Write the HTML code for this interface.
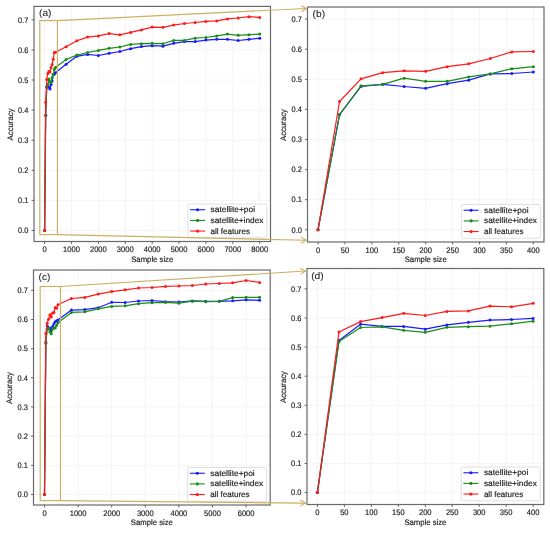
<!DOCTYPE html>
<html><head><meta charset="utf-8"><style>
html,body{margin:0;padding:0;background:#fff;width:550px;height:533px;overflow:hidden}
svg{display:block;text-rendering:geometricPrecision;will-change:transform;font-family:"Liberation Sans",sans-serif}
.grid{stroke:#f4f4f4;stroke-width:1}
.spine{fill:none;stroke:#6a6a6a;stroke-width:1.2}
.tick{stroke:#555;stroke-width:0.9}
.legend{fill:#fff;fill-opacity:0.8;stroke:#d6d6d6;stroke-width:0.75}
</style></head><body>
<svg width="550" height="533" viewBox="0 0 550 533">
<rect width="550" height="533" fill="#fff"/>
<line x1="44.60" y1="6.40" x2="44.60" y2="241.50" class="grid"/>
<line x1="71.49" y1="6.40" x2="71.49" y2="241.50" class="grid"/>
<line x1="98.38" y1="6.40" x2="98.38" y2="241.50" class="grid"/>
<line x1="125.27" y1="6.40" x2="125.27" y2="241.50" class="grid"/>
<line x1="152.16" y1="6.40" x2="152.16" y2="241.50" class="grid"/>
<line x1="179.05" y1="6.40" x2="179.05" y2="241.50" class="grid"/>
<line x1="205.94" y1="6.40" x2="205.94" y2="241.50" class="grid"/>
<line x1="232.83" y1="6.40" x2="232.83" y2="241.50" class="grid"/>
<line x1="259.72" y1="6.40" x2="259.72" y2="241.50" class="grid"/>
<line x1="34.00" y1="230.50" x2="270.50" y2="230.50" class="grid"/>
<line x1="34.00" y1="200.40" x2="270.50" y2="200.40" class="grid"/>
<line x1="34.00" y1="170.30" x2="270.50" y2="170.30" class="grid"/>
<line x1="34.00" y1="140.20" x2="270.50" y2="140.20" class="grid"/>
<line x1="34.00" y1="110.10" x2="270.50" y2="110.10" class="grid"/>
<line x1="34.00" y1="80.00" x2="270.50" y2="80.00" class="grid"/>
<line x1="34.00" y1="49.90" x2="270.50" y2="49.90" class="grid"/>
<line x1="34.00" y1="19.80" x2="270.50" y2="19.80" class="grid"/>
<polyline points="44.60,230.50 45.68,115.30 46.75,87.20 47.83,85.00 48.90,87.20 49.98,89.00 51.05,84.40 52.13,80.90 53.20,74.60 54.28,74.20 55.36,72.70 66.11,64.30 76.87,56.30 87.62,54.40 98.38,55.50 109.14,53.30 119.89,51.50 130.65,48.70 141.40,46.60 152.16,45.70 162.92,46.20 173.67,43.30 184.43,41.60 195.18,41.60 205.94,40.10 216.70,39.30 227.45,39.30 238.21,40.50 248.96,39.30 259.72,38.20" fill="none" stroke="#1a1aff" stroke-width="1.2" stroke-linejoin="round"/>
<circle cx="44.60" cy="230.50" r="1.5" fill="#1a1aff"/>
<circle cx="45.68" cy="115.30" r="1.5" fill="#1a1aff"/>
<circle cx="46.75" cy="87.20" r="1.5" fill="#1a1aff"/>
<circle cx="47.83" cy="85.00" r="1.5" fill="#1a1aff"/>
<circle cx="48.90" cy="87.20" r="1.5" fill="#1a1aff"/>
<circle cx="49.98" cy="89.00" r="1.5" fill="#1a1aff"/>
<circle cx="51.05" cy="84.40" r="1.5" fill="#1a1aff"/>
<circle cx="52.13" cy="80.90" r="1.5" fill="#1a1aff"/>
<circle cx="53.20" cy="74.60" r="1.5" fill="#1a1aff"/>
<circle cx="54.28" cy="74.20" r="1.5" fill="#1a1aff"/>
<circle cx="55.36" cy="72.70" r="1.5" fill="#1a1aff"/>
<circle cx="66.11" cy="64.30" r="1.5" fill="#1a1aff"/>
<circle cx="76.87" cy="56.30" r="1.5" fill="#1a1aff"/>
<circle cx="87.62" cy="54.40" r="1.5" fill="#1a1aff"/>
<circle cx="98.38" cy="55.50" r="1.5" fill="#1a1aff"/>
<circle cx="109.14" cy="53.30" r="1.5" fill="#1a1aff"/>
<circle cx="119.89" cy="51.50" r="1.5" fill="#1a1aff"/>
<circle cx="130.65" cy="48.70" r="1.5" fill="#1a1aff"/>
<circle cx="141.40" cy="46.60" r="1.5" fill="#1a1aff"/>
<circle cx="152.16" cy="45.70" r="1.5" fill="#1a1aff"/>
<circle cx="162.92" cy="46.20" r="1.5" fill="#1a1aff"/>
<circle cx="173.67" cy="43.30" r="1.5" fill="#1a1aff"/>
<circle cx="184.43" cy="41.60" r="1.5" fill="#1a1aff"/>
<circle cx="195.18" cy="41.60" r="1.5" fill="#1a1aff"/>
<circle cx="205.94" cy="40.10" r="1.5" fill="#1a1aff"/>
<circle cx="216.70" cy="39.30" r="1.5" fill="#1a1aff"/>
<circle cx="227.45" cy="39.30" r="1.5" fill="#1a1aff"/>
<circle cx="238.21" cy="40.50" r="1.5" fill="#1a1aff"/>
<circle cx="248.96" cy="39.30" r="1.5" fill="#1a1aff"/>
<circle cx="259.72" cy="38.20" r="1.5" fill="#1a1aff"/>
<polyline points="44.60,230.50 45.68,115.30 46.75,86.50 47.83,85.00 48.90,78.90 49.98,82.00 51.05,82.00 52.13,77.60 53.20,74.60 54.28,69.50 55.36,67.40 66.11,59.50 76.87,55.10 87.62,52.50 98.38,50.40 109.14,48.30 119.89,47.00 130.65,44.40 141.40,43.70 152.16,43.30 162.92,43.70 173.67,40.40 184.43,40.40 195.18,38.20 205.94,37.50 216.70,35.90 227.45,34.10 238.21,35.30 248.96,34.70 259.72,34.10" fill="none" stroke="#1a8c1a" stroke-width="1.2" stroke-linejoin="round"/>
<circle cx="44.60" cy="230.50" r="1.5" fill="#1a8c1a"/>
<circle cx="45.68" cy="115.30" r="1.5" fill="#1a8c1a"/>
<circle cx="46.75" cy="86.50" r="1.5" fill="#1a8c1a"/>
<circle cx="47.83" cy="85.00" r="1.5" fill="#1a8c1a"/>
<circle cx="48.90" cy="78.90" r="1.5" fill="#1a8c1a"/>
<circle cx="49.98" cy="82.00" r="1.5" fill="#1a8c1a"/>
<circle cx="51.05" cy="82.00" r="1.5" fill="#1a8c1a"/>
<circle cx="52.13" cy="77.60" r="1.5" fill="#1a8c1a"/>
<circle cx="53.20" cy="74.60" r="1.5" fill="#1a8c1a"/>
<circle cx="54.28" cy="69.50" r="1.5" fill="#1a8c1a"/>
<circle cx="55.36" cy="67.40" r="1.5" fill="#1a8c1a"/>
<circle cx="66.11" cy="59.50" r="1.5" fill="#1a8c1a"/>
<circle cx="76.87" cy="55.10" r="1.5" fill="#1a8c1a"/>
<circle cx="87.62" cy="52.50" r="1.5" fill="#1a8c1a"/>
<circle cx="98.38" cy="50.40" r="1.5" fill="#1a8c1a"/>
<circle cx="109.14" cy="48.30" r="1.5" fill="#1a8c1a"/>
<circle cx="119.89" cy="47.00" r="1.5" fill="#1a8c1a"/>
<circle cx="130.65" cy="44.40" r="1.5" fill="#1a8c1a"/>
<circle cx="141.40" cy="43.70" r="1.5" fill="#1a8c1a"/>
<circle cx="152.16" cy="43.30" r="1.5" fill="#1a8c1a"/>
<circle cx="162.92" cy="43.70" r="1.5" fill="#1a8c1a"/>
<circle cx="173.67" cy="40.40" r="1.5" fill="#1a8c1a"/>
<circle cx="184.43" cy="40.40" r="1.5" fill="#1a8c1a"/>
<circle cx="195.18" cy="38.20" r="1.5" fill="#1a8c1a"/>
<circle cx="205.94" cy="37.50" r="1.5" fill="#1a8c1a"/>
<circle cx="216.70" cy="35.90" r="1.5" fill="#1a8c1a"/>
<circle cx="227.45" cy="34.10" r="1.5" fill="#1a8c1a"/>
<circle cx="238.21" cy="35.30" r="1.5" fill="#1a8c1a"/>
<circle cx="248.96" cy="34.70" r="1.5" fill="#1a8c1a"/>
<circle cx="259.72" cy="34.10" r="1.5" fill="#1a8c1a"/>
<polyline points="44.60,230.50 45.68,102.20 46.75,79.50 47.83,73.40 48.90,71.50 49.98,72.00 51.05,67.40 52.13,64.50 53.20,59.20 54.28,52.60 55.36,52.20 66.11,46.70 76.87,40.80 87.62,37.10 98.38,35.90 109.14,33.60 119.89,34.80 130.65,32.40 141.40,29.90 152.16,27.10 162.92,27.30 173.67,25.10 184.43,23.50 195.18,22.50 205.94,21.40 216.70,20.90 227.45,18.90 238.21,18.00 248.96,16.70 259.72,17.40" fill="none" stroke="#ff1a1a" stroke-width="1.2" stroke-linejoin="round"/>
<circle cx="44.60" cy="230.50" r="1.5" fill="#ff1a1a"/>
<circle cx="45.68" cy="102.20" r="1.5" fill="#ff1a1a"/>
<circle cx="46.75" cy="79.50" r="1.5" fill="#ff1a1a"/>
<circle cx="47.83" cy="73.40" r="1.5" fill="#ff1a1a"/>
<circle cx="48.90" cy="71.50" r="1.5" fill="#ff1a1a"/>
<circle cx="49.98" cy="72.00" r="1.5" fill="#ff1a1a"/>
<circle cx="51.05" cy="67.40" r="1.5" fill="#ff1a1a"/>
<circle cx="52.13" cy="64.50" r="1.5" fill="#ff1a1a"/>
<circle cx="53.20" cy="59.20" r="1.5" fill="#ff1a1a"/>
<circle cx="54.28" cy="52.60" r="1.5" fill="#ff1a1a"/>
<circle cx="55.36" cy="52.20" r="1.5" fill="#ff1a1a"/>
<circle cx="66.11" cy="46.70" r="1.5" fill="#ff1a1a"/>
<circle cx="76.87" cy="40.80" r="1.5" fill="#ff1a1a"/>
<circle cx="87.62" cy="37.10" r="1.5" fill="#ff1a1a"/>
<circle cx="98.38" cy="35.90" r="1.5" fill="#ff1a1a"/>
<circle cx="109.14" cy="33.60" r="1.5" fill="#ff1a1a"/>
<circle cx="119.89" cy="34.80" r="1.5" fill="#ff1a1a"/>
<circle cx="130.65" cy="32.40" r="1.5" fill="#ff1a1a"/>
<circle cx="141.40" cy="29.90" r="1.5" fill="#ff1a1a"/>
<circle cx="152.16" cy="27.10" r="1.5" fill="#ff1a1a"/>
<circle cx="162.92" cy="27.30" r="1.5" fill="#ff1a1a"/>
<circle cx="173.67" cy="25.10" r="1.5" fill="#ff1a1a"/>
<circle cx="184.43" cy="23.50" r="1.5" fill="#ff1a1a"/>
<circle cx="195.18" cy="22.50" r="1.5" fill="#ff1a1a"/>
<circle cx="205.94" cy="21.40" r="1.5" fill="#ff1a1a"/>
<circle cx="216.70" cy="20.90" r="1.5" fill="#ff1a1a"/>
<circle cx="227.45" cy="18.90" r="1.5" fill="#ff1a1a"/>
<circle cx="238.21" cy="18.00" r="1.5" fill="#ff1a1a"/>
<circle cx="248.96" cy="16.70" r="1.5" fill="#ff1a1a"/>
<circle cx="259.72" cy="17.40" r="1.5" fill="#ff1a1a"/>
<rect x="34.00" y="6.40" width="236.50" height="235.10" class="spine"/>
<line x1="44.60" y1="241.50" x2="44.60" y2="243.95" class="tick"/>
<text x="44.60" y="252.30" font-size="8.0" text-anchor="middle" textLength="4.20" lengthAdjust="spacingAndGlyphs" fill="#1e1e1e" stroke="#1e1e1e" stroke-width="0.18">0</text>
<line x1="71.49" y1="241.50" x2="71.49" y2="243.95" class="tick"/>
<text x="71.49" y="252.30" font-size="8.0" text-anchor="middle" textLength="16.80" lengthAdjust="spacingAndGlyphs" fill="#1e1e1e" stroke="#1e1e1e" stroke-width="0.18">1000</text>
<line x1="98.38" y1="241.50" x2="98.38" y2="243.95" class="tick"/>
<text x="98.38" y="252.30" font-size="8.0" text-anchor="middle" textLength="16.80" lengthAdjust="spacingAndGlyphs" fill="#1e1e1e" stroke="#1e1e1e" stroke-width="0.18">2000</text>
<line x1="125.27" y1="241.50" x2="125.27" y2="243.95" class="tick"/>
<text x="125.27" y="252.30" font-size="8.0" text-anchor="middle" textLength="16.80" lengthAdjust="spacingAndGlyphs" fill="#1e1e1e" stroke="#1e1e1e" stroke-width="0.18">3000</text>
<line x1="152.16" y1="241.50" x2="152.16" y2="243.95" class="tick"/>
<text x="152.16" y="252.30" font-size="8.0" text-anchor="middle" textLength="16.80" lengthAdjust="spacingAndGlyphs" fill="#1e1e1e" stroke="#1e1e1e" stroke-width="0.18">4000</text>
<line x1="179.05" y1="241.50" x2="179.05" y2="243.95" class="tick"/>
<text x="179.05" y="252.30" font-size="8.0" text-anchor="middle" textLength="16.80" lengthAdjust="spacingAndGlyphs" fill="#1e1e1e" stroke="#1e1e1e" stroke-width="0.18">5000</text>
<line x1="205.94" y1="241.50" x2="205.94" y2="243.95" class="tick"/>
<text x="205.94" y="252.30" font-size="8.0" text-anchor="middle" textLength="16.80" lengthAdjust="spacingAndGlyphs" fill="#1e1e1e" stroke="#1e1e1e" stroke-width="0.18">6000</text>
<line x1="232.83" y1="241.50" x2="232.83" y2="243.95" class="tick"/>
<text x="232.83" y="252.30" font-size="8.0" text-anchor="middle" textLength="16.80" lengthAdjust="spacingAndGlyphs" fill="#1e1e1e" stroke="#1e1e1e" stroke-width="0.18">7000</text>
<line x1="259.72" y1="241.50" x2="259.72" y2="243.95" class="tick"/>
<text x="259.72" y="252.30" font-size="8.0" text-anchor="middle" textLength="16.80" lengthAdjust="spacingAndGlyphs" fill="#1e1e1e" stroke="#1e1e1e" stroke-width="0.18">8000</text>
<line x1="31.55" y1="230.50" x2="34.00" y2="230.50" class="tick"/>
<text x="28.40" y="233.25" font-size="8.0" text-anchor="end" textLength="10.34" lengthAdjust="spacingAndGlyphs" fill="#1e1e1e" stroke="#1e1e1e" stroke-width="0.18">0.0</text>
<line x1="31.55" y1="200.40" x2="34.00" y2="200.40" class="tick"/>
<text x="28.40" y="203.15" font-size="8.0" text-anchor="end" textLength="10.34" lengthAdjust="spacingAndGlyphs" fill="#1e1e1e" stroke="#1e1e1e" stroke-width="0.18">0.1</text>
<line x1="31.55" y1="170.30" x2="34.00" y2="170.30" class="tick"/>
<text x="28.40" y="173.05" font-size="8.0" text-anchor="end" textLength="10.34" lengthAdjust="spacingAndGlyphs" fill="#1e1e1e" stroke="#1e1e1e" stroke-width="0.18">0.2</text>
<line x1="31.55" y1="140.20" x2="34.00" y2="140.20" class="tick"/>
<text x="28.40" y="142.95" font-size="8.0" text-anchor="end" textLength="10.34" lengthAdjust="spacingAndGlyphs" fill="#1e1e1e" stroke="#1e1e1e" stroke-width="0.18">0.3</text>
<line x1="31.55" y1="110.10" x2="34.00" y2="110.10" class="tick"/>
<text x="28.40" y="112.85" font-size="8.0" text-anchor="end" textLength="10.34" lengthAdjust="spacingAndGlyphs" fill="#1e1e1e" stroke="#1e1e1e" stroke-width="0.18">0.4</text>
<line x1="31.55" y1="80.00" x2="34.00" y2="80.00" class="tick"/>
<text x="28.40" y="82.75" font-size="8.0" text-anchor="end" textLength="10.34" lengthAdjust="spacingAndGlyphs" fill="#1e1e1e" stroke="#1e1e1e" stroke-width="0.18">0.5</text>
<line x1="31.55" y1="49.90" x2="34.00" y2="49.90" class="tick"/>
<text x="28.40" y="52.65" font-size="8.0" text-anchor="end" textLength="10.34" lengthAdjust="spacingAndGlyphs" fill="#1e1e1e" stroke="#1e1e1e" stroke-width="0.18">0.6</text>
<line x1="31.55" y1="19.80" x2="34.00" y2="19.80" class="tick"/>
<text x="28.40" y="22.55" font-size="8.0" text-anchor="end" textLength="10.34" lengthAdjust="spacingAndGlyphs" fill="#1e1e1e" stroke="#1e1e1e" stroke-width="0.18">0.7</text>
<text x="152.25" y="261.60" font-size="8.0" text-anchor="middle" textLength="42.04" lengthAdjust="spacingAndGlyphs" fill="#1e1e1e" stroke="#1e1e1e" stroke-width="0.18">Sample size</text>
<text x="12.70" y="124.45" font-size="8.0" text-anchor="middle" textLength="31.96" lengthAdjust="spacingAndGlyphs" fill="#1e1e1e" stroke="#1e1e1e" stroke-width="0.18" transform="rotate(-90 12.70 124.45)">Accuracy</text>
<text x="39.10" y="15.50" font-size="9.6" text-anchor="start" textLength="12.40" lengthAdjust="spacingAndGlyphs" fill="#1e1e1e" stroke="#1e1e1e" stroke-width="0.06">(a)</text>
<rect x="187.90" y="204.00" width="79.00" height="33.80" rx="1.4" class="legend"/>
<line x1="190.10" y1="209.75" x2="205.10" y2="209.75" stroke="#1a1aff" stroke-width="1.1"/>
<circle cx="197.60" cy="209.75" r="1.6" fill="#1a1aff"/>
<text x="210.60" y="212.30" font-size="8.0" text-anchor="start" textLength="44.41" lengthAdjust="spacingAndGlyphs" fill="#1e1e1e" stroke="#1e1e1e" stroke-width="0.18">satellite+poi</text>
<line x1="190.10" y1="220.40" x2="205.10" y2="220.40" stroke="#1a8c1a" stroke-width="1.1"/>
<circle cx="197.60" cy="220.40" r="1.6" fill="#1a8c1a"/>
<text x="210.60" y="222.90" font-size="8.0" text-anchor="start" textLength="52.89" lengthAdjust="spacingAndGlyphs" fill="#1e1e1e" stroke="#1e1e1e" stroke-width="0.18">satellite+index</text>
<line x1="190.10" y1="231.05" x2="205.10" y2="231.05" stroke="#ff1a1a" stroke-width="1.1"/>
<circle cx="197.60" cy="231.05" r="1.6" fill="#ff1a1a"/>
<text x="210.60" y="233.50" font-size="8.0" text-anchor="start" textLength="39.32" lengthAdjust="spacingAndGlyphs" fill="#1e1e1e" stroke="#1e1e1e" stroke-width="0.18">all features</text>
<line x1="318.00" y1="7.00" x2="318.00" y2="242.00" class="grid"/>
<line x1="344.92" y1="7.00" x2="344.92" y2="242.00" class="grid"/>
<line x1="371.83" y1="7.00" x2="371.83" y2="242.00" class="grid"/>
<line x1="398.75" y1="7.00" x2="398.75" y2="242.00" class="grid"/>
<line x1="425.66" y1="7.00" x2="425.66" y2="242.00" class="grid"/>
<line x1="452.57" y1="7.00" x2="452.57" y2="242.00" class="grid"/>
<line x1="479.49" y1="7.00" x2="479.49" y2="242.00" class="grid"/>
<line x1="506.40" y1="7.00" x2="506.40" y2="242.00" class="grid"/>
<line x1="533.32" y1="7.00" x2="533.32" y2="242.00" class="grid"/>
<line x1="307.50" y1="229.80" x2="544.00" y2="229.80" class="grid"/>
<line x1="307.50" y1="199.70" x2="544.00" y2="199.70" class="grid"/>
<line x1="307.50" y1="169.60" x2="544.00" y2="169.60" class="grid"/>
<line x1="307.50" y1="139.50" x2="544.00" y2="139.50" class="grid"/>
<line x1="307.50" y1="109.40" x2="544.00" y2="109.40" class="grid"/>
<line x1="307.50" y1="79.30" x2="544.00" y2="79.30" class="grid"/>
<line x1="307.50" y1="49.20" x2="544.00" y2="49.20" class="grid"/>
<line x1="307.50" y1="19.10" x2="544.00" y2="19.10" class="grid"/>
<polyline points="318.00,229.80 339.53,114.60 361.06,86.50 382.60,84.30 404.13,86.50 425.66,88.30 447.19,83.70 468.72,80.20 490.26,73.90 511.79,73.50 533.32,72.00" fill="none" stroke="#1a1aff" stroke-width="1.2" stroke-linejoin="round"/>
<circle cx="318.00" cy="229.80" r="1.5" fill="#1a1aff"/>
<circle cx="339.53" cy="114.60" r="1.5" fill="#1a1aff"/>
<circle cx="361.06" cy="86.50" r="1.5" fill="#1a1aff"/>
<circle cx="382.60" cy="84.30" r="1.5" fill="#1a1aff"/>
<circle cx="404.13" cy="86.50" r="1.5" fill="#1a1aff"/>
<circle cx="425.66" cy="88.30" r="1.5" fill="#1a1aff"/>
<circle cx="447.19" cy="83.70" r="1.5" fill="#1a1aff"/>
<circle cx="468.72" cy="80.20" r="1.5" fill="#1a1aff"/>
<circle cx="490.26" cy="73.90" r="1.5" fill="#1a1aff"/>
<circle cx="511.79" cy="73.50" r="1.5" fill="#1a1aff"/>
<circle cx="533.32" cy="72.00" r="1.5" fill="#1a1aff"/>
<polyline points="318.00,229.80 339.53,114.60 361.06,85.80 382.60,84.30 404.13,78.20 425.66,81.30 447.19,81.30 468.72,76.90 490.26,73.90 511.79,68.80 533.32,66.70" fill="none" stroke="#1a8c1a" stroke-width="1.2" stroke-linejoin="round"/>
<circle cx="318.00" cy="229.80" r="1.5" fill="#1a8c1a"/>
<circle cx="339.53" cy="114.60" r="1.5" fill="#1a8c1a"/>
<circle cx="361.06" cy="85.80" r="1.5" fill="#1a8c1a"/>
<circle cx="382.60" cy="84.30" r="1.5" fill="#1a8c1a"/>
<circle cx="404.13" cy="78.20" r="1.5" fill="#1a8c1a"/>
<circle cx="425.66" cy="81.30" r="1.5" fill="#1a8c1a"/>
<circle cx="447.19" cy="81.30" r="1.5" fill="#1a8c1a"/>
<circle cx="468.72" cy="76.90" r="1.5" fill="#1a8c1a"/>
<circle cx="490.26" cy="73.90" r="1.5" fill="#1a8c1a"/>
<circle cx="511.79" cy="68.80" r="1.5" fill="#1a8c1a"/>
<circle cx="533.32" cy="66.70" r="1.5" fill="#1a8c1a"/>
<polyline points="318.00,229.80 339.53,101.50 361.06,78.80 382.60,72.70 404.13,70.80 425.66,71.30 447.19,66.70 468.72,63.80 490.26,58.50 511.79,51.90 533.32,51.50" fill="none" stroke="#ff1a1a" stroke-width="1.2" stroke-linejoin="round"/>
<circle cx="318.00" cy="229.80" r="1.5" fill="#ff1a1a"/>
<circle cx="339.53" cy="101.50" r="1.5" fill="#ff1a1a"/>
<circle cx="361.06" cy="78.80" r="1.5" fill="#ff1a1a"/>
<circle cx="382.60" cy="72.70" r="1.5" fill="#ff1a1a"/>
<circle cx="404.13" cy="70.80" r="1.5" fill="#ff1a1a"/>
<circle cx="425.66" cy="71.30" r="1.5" fill="#ff1a1a"/>
<circle cx="447.19" cy="66.70" r="1.5" fill="#ff1a1a"/>
<circle cx="468.72" cy="63.80" r="1.5" fill="#ff1a1a"/>
<circle cx="490.26" cy="58.50" r="1.5" fill="#ff1a1a"/>
<circle cx="511.79" cy="51.90" r="1.5" fill="#ff1a1a"/>
<circle cx="533.32" cy="51.50" r="1.5" fill="#ff1a1a"/>
<rect x="307.50" y="7.00" width="236.50" height="235.00" class="spine"/>
<line x1="318.00" y1="242.00" x2="318.00" y2="244.45" class="tick"/>
<text x="318.00" y="252.60" font-size="8.0" text-anchor="middle" textLength="4.20" lengthAdjust="spacingAndGlyphs" fill="#1e1e1e" stroke="#1e1e1e" stroke-width="0.18">0</text>
<line x1="344.92" y1="242.00" x2="344.92" y2="244.45" class="tick"/>
<text x="344.92" y="252.60" font-size="8.0" text-anchor="middle" textLength="8.40" lengthAdjust="spacingAndGlyphs" fill="#1e1e1e" stroke="#1e1e1e" stroke-width="0.18">50</text>
<line x1="371.83" y1="242.00" x2="371.83" y2="244.45" class="tick"/>
<text x="371.83" y="252.60" font-size="8.0" text-anchor="middle" textLength="12.60" lengthAdjust="spacingAndGlyphs" fill="#1e1e1e" stroke="#1e1e1e" stroke-width="0.18">100</text>
<line x1="398.75" y1="242.00" x2="398.75" y2="244.45" class="tick"/>
<text x="398.75" y="252.60" font-size="8.0" text-anchor="middle" textLength="12.60" lengthAdjust="spacingAndGlyphs" fill="#1e1e1e" stroke="#1e1e1e" stroke-width="0.18">150</text>
<line x1="425.66" y1="242.00" x2="425.66" y2="244.45" class="tick"/>
<text x="425.66" y="252.60" font-size="8.0" text-anchor="middle" textLength="12.60" lengthAdjust="spacingAndGlyphs" fill="#1e1e1e" stroke="#1e1e1e" stroke-width="0.18">200</text>
<line x1="452.57" y1="242.00" x2="452.57" y2="244.45" class="tick"/>
<text x="452.57" y="252.60" font-size="8.0" text-anchor="middle" textLength="12.60" lengthAdjust="spacingAndGlyphs" fill="#1e1e1e" stroke="#1e1e1e" stroke-width="0.18">250</text>
<line x1="479.49" y1="242.00" x2="479.49" y2="244.45" class="tick"/>
<text x="479.49" y="252.60" font-size="8.0" text-anchor="middle" textLength="12.60" lengthAdjust="spacingAndGlyphs" fill="#1e1e1e" stroke="#1e1e1e" stroke-width="0.18">300</text>
<line x1="506.40" y1="242.00" x2="506.40" y2="244.45" class="tick"/>
<text x="506.40" y="252.60" font-size="8.0" text-anchor="middle" textLength="12.60" lengthAdjust="spacingAndGlyphs" fill="#1e1e1e" stroke="#1e1e1e" stroke-width="0.18">350</text>
<line x1="533.32" y1="242.00" x2="533.32" y2="244.45" class="tick"/>
<text x="533.32" y="252.60" font-size="8.0" text-anchor="middle" textLength="12.60" lengthAdjust="spacingAndGlyphs" fill="#1e1e1e" stroke="#1e1e1e" stroke-width="0.18">400</text>
<line x1="305.05" y1="229.80" x2="307.50" y2="229.80" class="tick"/>
<text x="301.90" y="232.55" font-size="8.0" text-anchor="end" textLength="10.34" lengthAdjust="spacingAndGlyphs" fill="#1e1e1e" stroke="#1e1e1e" stroke-width="0.18">0.0</text>
<line x1="305.05" y1="199.70" x2="307.50" y2="199.70" class="tick"/>
<text x="301.90" y="202.45" font-size="8.0" text-anchor="end" textLength="10.34" lengthAdjust="spacingAndGlyphs" fill="#1e1e1e" stroke="#1e1e1e" stroke-width="0.18">0.1</text>
<line x1="305.05" y1="169.60" x2="307.50" y2="169.60" class="tick"/>
<text x="301.90" y="172.35" font-size="8.0" text-anchor="end" textLength="10.34" lengthAdjust="spacingAndGlyphs" fill="#1e1e1e" stroke="#1e1e1e" stroke-width="0.18">0.2</text>
<line x1="305.05" y1="139.50" x2="307.50" y2="139.50" class="tick"/>
<text x="301.90" y="142.25" font-size="8.0" text-anchor="end" textLength="10.34" lengthAdjust="spacingAndGlyphs" fill="#1e1e1e" stroke="#1e1e1e" stroke-width="0.18">0.3</text>
<line x1="305.05" y1="109.40" x2="307.50" y2="109.40" class="tick"/>
<text x="301.90" y="112.15" font-size="8.0" text-anchor="end" textLength="10.34" lengthAdjust="spacingAndGlyphs" fill="#1e1e1e" stroke="#1e1e1e" stroke-width="0.18">0.4</text>
<line x1="305.05" y1="79.30" x2="307.50" y2="79.30" class="tick"/>
<text x="301.90" y="82.05" font-size="8.0" text-anchor="end" textLength="10.34" lengthAdjust="spacingAndGlyphs" fill="#1e1e1e" stroke="#1e1e1e" stroke-width="0.18">0.5</text>
<line x1="305.05" y1="49.20" x2="307.50" y2="49.20" class="tick"/>
<text x="301.90" y="51.95" font-size="8.0" text-anchor="end" textLength="10.34" lengthAdjust="spacingAndGlyphs" fill="#1e1e1e" stroke="#1e1e1e" stroke-width="0.18">0.6</text>
<line x1="305.05" y1="19.10" x2="307.50" y2="19.10" class="tick"/>
<text x="301.90" y="21.85" font-size="8.0" text-anchor="end" textLength="10.34" lengthAdjust="spacingAndGlyphs" fill="#1e1e1e" stroke="#1e1e1e" stroke-width="0.18">0.7</text>
<text x="425.75" y="262.10" font-size="8.0" text-anchor="middle" textLength="42.04" lengthAdjust="spacingAndGlyphs" fill="#1e1e1e" stroke="#1e1e1e" stroke-width="0.18">Sample size</text>
<text x="286.20" y="125.00" font-size="8.0" text-anchor="middle" textLength="31.96" lengthAdjust="spacingAndGlyphs" fill="#1e1e1e" stroke="#1e1e1e" stroke-width="0.18" transform="rotate(-90 286.20 125.00)">Accuracy</text>
<text x="312.50" y="16.70" font-size="9.6" text-anchor="start" textLength="12.59" lengthAdjust="spacingAndGlyphs" fill="#1e1e1e" stroke="#1e1e1e" stroke-width="0.06">(b)</text>
<rect x="461.40" y="204.50" width="79.00" height="33.80" rx="1.4" class="legend"/>
<line x1="463.60" y1="210.25" x2="478.60" y2="210.25" stroke="#1a1aff" stroke-width="1.1"/>
<circle cx="471.10" cy="210.25" r="1.6" fill="#1a1aff"/>
<text x="484.10" y="212.80" font-size="8.0" text-anchor="start" textLength="44.41" lengthAdjust="spacingAndGlyphs" fill="#1e1e1e" stroke="#1e1e1e" stroke-width="0.18">satellite+poi</text>
<line x1="463.60" y1="220.90" x2="478.60" y2="220.90" stroke="#1a8c1a" stroke-width="1.1"/>
<circle cx="471.10" cy="220.90" r="1.6" fill="#1a8c1a"/>
<text x="484.10" y="223.40" font-size="8.0" text-anchor="start" textLength="52.89" lengthAdjust="spacingAndGlyphs" fill="#1e1e1e" stroke="#1e1e1e" stroke-width="0.18">satellite+index</text>
<line x1="463.60" y1="231.55" x2="478.60" y2="231.55" stroke="#ff1a1a" stroke-width="1.1"/>
<circle cx="471.10" cy="231.55" r="1.6" fill="#ff1a1a"/>
<text x="484.10" y="234.00" font-size="8.0" text-anchor="start" textLength="39.32" lengthAdjust="spacingAndGlyphs" fill="#1e1e1e" stroke="#1e1e1e" stroke-width="0.18">all features</text>
<line x1="44.50" y1="270.00" x2="44.50" y2="505.00" class="grid"/>
<line x1="78.10" y1="270.00" x2="78.10" y2="505.00" class="grid"/>
<line x1="111.70" y1="270.00" x2="111.70" y2="505.00" class="grid"/>
<line x1="145.30" y1="270.00" x2="145.30" y2="505.00" class="grid"/>
<line x1="178.90" y1="270.00" x2="178.90" y2="505.00" class="grid"/>
<line x1="212.50" y1="270.00" x2="212.50" y2="505.00" class="grid"/>
<line x1="246.10" y1="270.00" x2="246.10" y2="505.00" class="grid"/>
<line x1="33.50" y1="494.50" x2="270.20" y2="494.50" class="grid"/>
<line x1="33.50" y1="465.33" x2="270.20" y2="465.33" class="grid"/>
<line x1="33.50" y1="436.16" x2="270.20" y2="436.16" class="grid"/>
<line x1="33.50" y1="406.99" x2="270.20" y2="406.99" class="grid"/>
<line x1="33.50" y1="377.82" x2="270.20" y2="377.82" class="grid"/>
<line x1="33.50" y1="348.65" x2="270.20" y2="348.65" class="grid"/>
<line x1="33.50" y1="319.48" x2="270.20" y2="319.48" class="grid"/>
<line x1="33.50" y1="290.31" x2="270.20" y2="290.31" class="grid"/>
<polyline points="44.50,494.50 45.84,342.09 47.19,325.75 48.53,327.96 49.88,327.96 51.22,330.76 52.56,326.45 53.91,323.85 55.25,321.64 56.60,321.04 57.94,319.94 71.38,310.10 84.82,309.60 98.26,307.70 111.70,302.30 125.14,302.50 138.58,301.00 152.02,300.50 165.46,301.70 178.90,302.00 192.34,300.90 205.78,301.30 219.22,301.30 232.66,300.80 246.10,299.80 259.54,300.30" fill="none" stroke="#1a1aff" stroke-width="1.2" stroke-linejoin="round"/>
<circle cx="44.50" cy="494.50" r="1.5" fill="#1a1aff"/>
<circle cx="45.84" cy="342.09" r="1.5" fill="#1a1aff"/>
<circle cx="47.19" cy="325.75" r="1.5" fill="#1a1aff"/>
<circle cx="48.53" cy="327.96" r="1.5" fill="#1a1aff"/>
<circle cx="49.88" cy="327.96" r="1.5" fill="#1a1aff"/>
<circle cx="51.22" cy="330.76" r="1.5" fill="#1a1aff"/>
<circle cx="52.56" cy="326.45" r="1.5" fill="#1a1aff"/>
<circle cx="53.91" cy="323.85" r="1.5" fill="#1a1aff"/>
<circle cx="55.25" cy="321.64" r="1.5" fill="#1a1aff"/>
<circle cx="56.60" cy="321.04" r="1.5" fill="#1a1aff"/>
<circle cx="57.94" cy="319.94" r="1.5" fill="#1a1aff"/>
<circle cx="71.38" cy="310.10" r="1.5" fill="#1a1aff"/>
<circle cx="84.82" cy="309.60" r="1.5" fill="#1a1aff"/>
<circle cx="98.26" cy="307.70" r="1.5" fill="#1a1aff"/>
<circle cx="111.70" cy="302.30" r="1.5" fill="#1a1aff"/>
<circle cx="125.14" cy="302.50" r="1.5" fill="#1a1aff"/>
<circle cx="138.58" cy="301.00" r="1.5" fill="#1a1aff"/>
<circle cx="152.02" cy="300.50" r="1.5" fill="#1a1aff"/>
<circle cx="165.46" cy="301.70" r="1.5" fill="#1a1aff"/>
<circle cx="178.90" cy="302.00" r="1.5" fill="#1a1aff"/>
<circle cx="192.34" cy="300.90" r="1.5" fill="#1a1aff"/>
<circle cx="205.78" cy="301.30" r="1.5" fill="#1a1aff"/>
<circle cx="219.22" cy="301.30" r="1.5" fill="#1a1aff"/>
<circle cx="232.66" cy="300.80" r="1.5" fill="#1a1aff"/>
<circle cx="246.10" cy="299.80" r="1.5" fill="#1a1aff"/>
<circle cx="259.54" cy="300.30" r="1.5" fill="#1a1aff"/>
<polyline points="44.50,494.50 45.84,343.19 47.19,329.06 48.53,328.36 49.88,331.87 51.22,333.87 52.56,328.86 53.91,328.26 55.25,327.76 56.60,325.35 57.94,322.75 71.38,312.40 84.82,311.80 98.26,308.80 111.70,306.40 125.14,305.80 138.58,303.70 152.02,302.70 165.46,302.30 178.90,303.20 192.34,301.20 205.78,301.70 219.22,301.30 232.66,297.60 246.10,297.30 259.54,297.30" fill="none" stroke="#1a8c1a" stroke-width="1.2" stroke-linejoin="round"/>
<circle cx="44.50" cy="494.50" r="1.5" fill="#1a8c1a"/>
<circle cx="45.84" cy="343.19" r="1.5" fill="#1a8c1a"/>
<circle cx="47.19" cy="329.06" r="1.5" fill="#1a8c1a"/>
<circle cx="48.53" cy="328.36" r="1.5" fill="#1a8c1a"/>
<circle cx="49.88" cy="331.87" r="1.5" fill="#1a8c1a"/>
<circle cx="51.22" cy="333.87" r="1.5" fill="#1a8c1a"/>
<circle cx="52.56" cy="328.86" r="1.5" fill="#1a8c1a"/>
<circle cx="53.91" cy="328.26" r="1.5" fill="#1a8c1a"/>
<circle cx="55.25" cy="327.76" r="1.5" fill="#1a8c1a"/>
<circle cx="56.60" cy="325.35" r="1.5" fill="#1a8c1a"/>
<circle cx="57.94" cy="322.75" r="1.5" fill="#1a8c1a"/>
<circle cx="71.38" cy="312.40" r="1.5" fill="#1a8c1a"/>
<circle cx="84.82" cy="311.80" r="1.5" fill="#1a8c1a"/>
<circle cx="98.26" cy="308.80" r="1.5" fill="#1a8c1a"/>
<circle cx="111.70" cy="306.40" r="1.5" fill="#1a8c1a"/>
<circle cx="125.14" cy="305.80" r="1.5" fill="#1a8c1a"/>
<circle cx="138.58" cy="303.70" r="1.5" fill="#1a8c1a"/>
<circle cx="152.02" cy="302.70" r="1.5" fill="#1a8c1a"/>
<circle cx="165.46" cy="302.30" r="1.5" fill="#1a8c1a"/>
<circle cx="178.90" cy="303.20" r="1.5" fill="#1a8c1a"/>
<circle cx="192.34" cy="301.20" r="1.5" fill="#1a8c1a"/>
<circle cx="205.78" cy="301.70" r="1.5" fill="#1a8c1a"/>
<circle cx="219.22" cy="301.30" r="1.5" fill="#1a8c1a"/>
<circle cx="232.66" cy="297.60" r="1.5" fill="#1a8c1a"/>
<circle cx="246.10" cy="297.30" r="1.5" fill="#1a8c1a"/>
<circle cx="259.54" cy="297.30" r="1.5" fill="#1a8c1a"/>
<polyline points="44.50,494.50 45.84,333.57 47.19,323.15 48.53,319.14 49.88,314.83 51.22,317.03 52.56,312.93 53.91,312.43 55.25,307.62 56.60,308.32 57.94,304.81 71.38,298.50 84.82,297.40 98.26,294.10 111.70,291.60 125.14,289.80 138.58,288.00 152.02,287.50 165.46,286.40 178.90,286.00 192.34,285.50 205.78,284.00 219.22,283.50 232.66,282.80 246.10,280.50 259.54,282.50" fill="none" stroke="#ff1a1a" stroke-width="1.2" stroke-linejoin="round"/>
<circle cx="44.50" cy="494.50" r="1.5" fill="#ff1a1a"/>
<circle cx="45.84" cy="333.57" r="1.5" fill="#ff1a1a"/>
<circle cx="47.19" cy="323.15" r="1.5" fill="#ff1a1a"/>
<circle cx="48.53" cy="319.14" r="1.5" fill="#ff1a1a"/>
<circle cx="49.88" cy="314.83" r="1.5" fill="#ff1a1a"/>
<circle cx="51.22" cy="317.03" r="1.5" fill="#ff1a1a"/>
<circle cx="52.56" cy="312.93" r="1.5" fill="#ff1a1a"/>
<circle cx="53.91" cy="312.43" r="1.5" fill="#ff1a1a"/>
<circle cx="55.25" cy="307.62" r="1.5" fill="#ff1a1a"/>
<circle cx="56.60" cy="308.32" r="1.5" fill="#ff1a1a"/>
<circle cx="57.94" cy="304.81" r="1.5" fill="#ff1a1a"/>
<circle cx="71.38" cy="298.50" r="1.5" fill="#ff1a1a"/>
<circle cx="84.82" cy="297.40" r="1.5" fill="#ff1a1a"/>
<circle cx="98.26" cy="294.10" r="1.5" fill="#ff1a1a"/>
<circle cx="111.70" cy="291.60" r="1.5" fill="#ff1a1a"/>
<circle cx="125.14" cy="289.80" r="1.5" fill="#ff1a1a"/>
<circle cx="138.58" cy="288.00" r="1.5" fill="#ff1a1a"/>
<circle cx="152.02" cy="287.50" r="1.5" fill="#ff1a1a"/>
<circle cx="165.46" cy="286.40" r="1.5" fill="#ff1a1a"/>
<circle cx="178.90" cy="286.00" r="1.5" fill="#ff1a1a"/>
<circle cx="192.34" cy="285.50" r="1.5" fill="#ff1a1a"/>
<circle cx="205.78" cy="284.00" r="1.5" fill="#ff1a1a"/>
<circle cx="219.22" cy="283.50" r="1.5" fill="#ff1a1a"/>
<circle cx="232.66" cy="282.80" r="1.5" fill="#ff1a1a"/>
<circle cx="246.10" cy="280.50" r="1.5" fill="#ff1a1a"/>
<circle cx="259.54" cy="282.50" r="1.5" fill="#ff1a1a"/>
<rect x="33.50" y="270.00" width="236.70" height="235.00" class="spine"/>
<line x1="44.50" y1="505.00" x2="44.50" y2="507.45" class="tick"/>
<text x="44.50" y="515.80" font-size="8.0" text-anchor="middle" textLength="4.20" lengthAdjust="spacingAndGlyphs" fill="#1e1e1e" stroke="#1e1e1e" stroke-width="0.18">0</text>
<line x1="78.10" y1="505.00" x2="78.10" y2="507.45" class="tick"/>
<text x="78.10" y="515.80" font-size="8.0" text-anchor="middle" textLength="16.80" lengthAdjust="spacingAndGlyphs" fill="#1e1e1e" stroke="#1e1e1e" stroke-width="0.18">1000</text>
<line x1="111.70" y1="505.00" x2="111.70" y2="507.45" class="tick"/>
<text x="111.70" y="515.80" font-size="8.0" text-anchor="middle" textLength="16.80" lengthAdjust="spacingAndGlyphs" fill="#1e1e1e" stroke="#1e1e1e" stroke-width="0.18">2000</text>
<line x1="145.30" y1="505.00" x2="145.30" y2="507.45" class="tick"/>
<text x="145.30" y="515.80" font-size="8.0" text-anchor="middle" textLength="16.80" lengthAdjust="spacingAndGlyphs" fill="#1e1e1e" stroke="#1e1e1e" stroke-width="0.18">3000</text>
<line x1="178.90" y1="505.00" x2="178.90" y2="507.45" class="tick"/>
<text x="178.90" y="515.80" font-size="8.0" text-anchor="middle" textLength="16.80" lengthAdjust="spacingAndGlyphs" fill="#1e1e1e" stroke="#1e1e1e" stroke-width="0.18">4000</text>
<line x1="212.50" y1="505.00" x2="212.50" y2="507.45" class="tick"/>
<text x="212.50" y="515.80" font-size="8.0" text-anchor="middle" textLength="16.80" lengthAdjust="spacingAndGlyphs" fill="#1e1e1e" stroke="#1e1e1e" stroke-width="0.18">5000</text>
<line x1="246.10" y1="505.00" x2="246.10" y2="507.45" class="tick"/>
<text x="246.10" y="515.80" font-size="8.0" text-anchor="middle" textLength="16.80" lengthAdjust="spacingAndGlyphs" fill="#1e1e1e" stroke="#1e1e1e" stroke-width="0.18">6000</text>
<line x1="31.05" y1="494.50" x2="33.50" y2="494.50" class="tick"/>
<text x="27.90" y="497.25" font-size="8.0" text-anchor="end" textLength="10.34" lengthAdjust="spacingAndGlyphs" fill="#1e1e1e" stroke="#1e1e1e" stroke-width="0.18">0.0</text>
<line x1="31.05" y1="465.33" x2="33.50" y2="465.33" class="tick"/>
<text x="27.90" y="468.08" font-size="8.0" text-anchor="end" textLength="10.34" lengthAdjust="spacingAndGlyphs" fill="#1e1e1e" stroke="#1e1e1e" stroke-width="0.18">0.1</text>
<line x1="31.05" y1="436.16" x2="33.50" y2="436.16" class="tick"/>
<text x="27.90" y="438.91" font-size="8.0" text-anchor="end" textLength="10.34" lengthAdjust="spacingAndGlyphs" fill="#1e1e1e" stroke="#1e1e1e" stroke-width="0.18">0.2</text>
<line x1="31.05" y1="406.99" x2="33.50" y2="406.99" class="tick"/>
<text x="27.90" y="409.74" font-size="8.0" text-anchor="end" textLength="10.34" lengthAdjust="spacingAndGlyphs" fill="#1e1e1e" stroke="#1e1e1e" stroke-width="0.18">0.3</text>
<line x1="31.05" y1="377.82" x2="33.50" y2="377.82" class="tick"/>
<text x="27.90" y="380.57" font-size="8.0" text-anchor="end" textLength="10.34" lengthAdjust="spacingAndGlyphs" fill="#1e1e1e" stroke="#1e1e1e" stroke-width="0.18">0.4</text>
<line x1="31.05" y1="348.65" x2="33.50" y2="348.65" class="tick"/>
<text x="27.90" y="351.40" font-size="8.0" text-anchor="end" textLength="10.34" lengthAdjust="spacingAndGlyphs" fill="#1e1e1e" stroke="#1e1e1e" stroke-width="0.18">0.5</text>
<line x1="31.05" y1="319.48" x2="33.50" y2="319.48" class="tick"/>
<text x="27.90" y="322.23" font-size="8.0" text-anchor="end" textLength="10.34" lengthAdjust="spacingAndGlyphs" fill="#1e1e1e" stroke="#1e1e1e" stroke-width="0.18">0.6</text>
<line x1="31.05" y1="290.31" x2="33.50" y2="290.31" class="tick"/>
<text x="27.90" y="293.06" font-size="8.0" text-anchor="end" textLength="10.34" lengthAdjust="spacingAndGlyphs" fill="#1e1e1e" stroke="#1e1e1e" stroke-width="0.18">0.7</text>
<text x="151.85" y="525.10" font-size="8.0" text-anchor="middle" textLength="42.04" lengthAdjust="spacingAndGlyphs" fill="#1e1e1e" stroke="#1e1e1e" stroke-width="0.18">Sample size</text>
<text x="12.20" y="388.00" font-size="8.0" text-anchor="middle" textLength="31.96" lengthAdjust="spacingAndGlyphs" fill="#1e1e1e" stroke="#1e1e1e" stroke-width="0.18" transform="rotate(-90 12.20 388.00)">Accuracy</text>
<text x="38.50" y="279.90" font-size="9.6" text-anchor="start" textLength="11.84" lengthAdjust="spacingAndGlyphs" fill="#1e1e1e" stroke="#1e1e1e" stroke-width="0.06">(c)</text>
<rect x="187.60" y="467.50" width="79.00" height="33.80" rx="1.4" class="legend"/>
<line x1="189.80" y1="473.25" x2="204.80" y2="473.25" stroke="#1a1aff" stroke-width="1.1"/>
<circle cx="197.30" cy="473.25" r="1.6" fill="#1a1aff"/>
<text x="210.30" y="475.80" font-size="8.0" text-anchor="start" textLength="44.41" lengthAdjust="spacingAndGlyphs" fill="#1e1e1e" stroke="#1e1e1e" stroke-width="0.18">satellite+poi</text>
<line x1="189.80" y1="483.90" x2="204.80" y2="483.90" stroke="#1a8c1a" stroke-width="1.1"/>
<circle cx="197.30" cy="483.90" r="1.6" fill="#1a8c1a"/>
<text x="210.30" y="486.40" font-size="8.0" text-anchor="start" textLength="52.89" lengthAdjust="spacingAndGlyphs" fill="#1e1e1e" stroke="#1e1e1e" stroke-width="0.18">satellite+index</text>
<line x1="189.80" y1="494.55" x2="204.80" y2="494.55" stroke="#ff1a1a" stroke-width="1.1"/>
<circle cx="197.30" cy="494.55" r="1.6" fill="#ff1a1a"/>
<text x="210.30" y="497.00" font-size="8.0" text-anchor="start" textLength="39.32" lengthAdjust="spacingAndGlyphs" fill="#1e1e1e" stroke="#1e1e1e" stroke-width="0.18">all features</text>
<line x1="317.40" y1="268.50" x2="317.40" y2="504.50" class="grid"/>
<line x1="344.36" y1="268.50" x2="344.36" y2="504.50" class="grid"/>
<line x1="371.33" y1="268.50" x2="371.33" y2="504.50" class="grid"/>
<line x1="398.29" y1="268.50" x2="398.29" y2="504.50" class="grid"/>
<line x1="425.26" y1="268.50" x2="425.26" y2="504.50" class="grid"/>
<line x1="452.22" y1="268.50" x2="452.22" y2="504.50" class="grid"/>
<line x1="479.19" y1="268.50" x2="479.19" y2="504.50" class="grid"/>
<line x1="506.15" y1="268.50" x2="506.15" y2="504.50" class="grid"/>
<line x1="533.12" y1="268.50" x2="533.12" y2="504.50" class="grid"/>
<line x1="307.00" y1="492.60" x2="543.80" y2="492.60" class="grid"/>
<line x1="307.00" y1="463.49" x2="543.80" y2="463.49" class="grid"/>
<line x1="307.00" y1="434.38" x2="543.80" y2="434.38" class="grid"/>
<line x1="307.00" y1="405.27" x2="543.80" y2="405.27" class="grid"/>
<line x1="307.00" y1="376.16" x2="543.80" y2="376.16" class="grid"/>
<line x1="307.00" y1="347.05" x2="543.80" y2="347.05" class="grid"/>
<line x1="307.00" y1="317.94" x2="543.80" y2="317.94" class="grid"/>
<line x1="307.00" y1="288.83" x2="543.80" y2="288.83" class="grid"/>
<polyline points="317.40,492.60 338.97,340.50 360.54,324.20 382.12,326.40 403.69,326.40 425.26,329.20 446.83,324.90 468.40,322.30 489.98,320.10 511.55,319.50 533.12,318.40" fill="none" stroke="#1a1aff" stroke-width="1.2" stroke-linejoin="round"/>
<circle cx="317.40" cy="492.60" r="1.5" fill="#1a1aff"/>
<circle cx="338.97" cy="340.50" r="1.5" fill="#1a1aff"/>
<circle cx="360.54" cy="324.20" r="1.5" fill="#1a1aff"/>
<circle cx="382.12" cy="326.40" r="1.5" fill="#1a1aff"/>
<circle cx="403.69" cy="326.40" r="1.5" fill="#1a1aff"/>
<circle cx="425.26" cy="329.20" r="1.5" fill="#1a1aff"/>
<circle cx="446.83" cy="324.90" r="1.5" fill="#1a1aff"/>
<circle cx="468.40" cy="322.30" r="1.5" fill="#1a1aff"/>
<circle cx="489.98" cy="320.10" r="1.5" fill="#1a1aff"/>
<circle cx="511.55" cy="319.50" r="1.5" fill="#1a1aff"/>
<circle cx="533.12" cy="318.40" r="1.5" fill="#1a1aff"/>
<polyline points="317.40,492.60 338.97,341.60 360.54,327.50 382.12,326.80 403.69,330.30 425.26,332.30 446.83,327.30 468.40,326.70 489.98,326.20 511.55,323.80 533.12,321.20" fill="none" stroke="#1a8c1a" stroke-width="1.2" stroke-linejoin="round"/>
<circle cx="317.40" cy="492.60" r="1.5" fill="#1a8c1a"/>
<circle cx="338.97" cy="341.60" r="1.5" fill="#1a8c1a"/>
<circle cx="360.54" cy="327.50" r="1.5" fill="#1a8c1a"/>
<circle cx="382.12" cy="326.80" r="1.5" fill="#1a8c1a"/>
<circle cx="403.69" cy="330.30" r="1.5" fill="#1a8c1a"/>
<circle cx="425.26" cy="332.30" r="1.5" fill="#1a8c1a"/>
<circle cx="446.83" cy="327.30" r="1.5" fill="#1a8c1a"/>
<circle cx="468.40" cy="326.70" r="1.5" fill="#1a8c1a"/>
<circle cx="489.98" cy="326.20" r="1.5" fill="#1a8c1a"/>
<circle cx="511.55" cy="323.80" r="1.5" fill="#1a8c1a"/>
<circle cx="533.12" cy="321.20" r="1.5" fill="#1a8c1a"/>
<polyline points="317.40,492.60 338.97,332.00 360.54,321.60 382.12,317.60 403.69,313.30 425.26,315.50 446.83,311.40 468.40,310.90 489.98,306.10 511.55,306.80 533.12,303.30" fill="none" stroke="#ff1a1a" stroke-width="1.2" stroke-linejoin="round"/>
<circle cx="317.40" cy="492.60" r="1.5" fill="#ff1a1a"/>
<circle cx="338.97" cy="332.00" r="1.5" fill="#ff1a1a"/>
<circle cx="360.54" cy="321.60" r="1.5" fill="#ff1a1a"/>
<circle cx="382.12" cy="317.60" r="1.5" fill="#ff1a1a"/>
<circle cx="403.69" cy="313.30" r="1.5" fill="#ff1a1a"/>
<circle cx="425.26" cy="315.50" r="1.5" fill="#ff1a1a"/>
<circle cx="446.83" cy="311.40" r="1.5" fill="#ff1a1a"/>
<circle cx="468.40" cy="310.90" r="1.5" fill="#ff1a1a"/>
<circle cx="489.98" cy="306.10" r="1.5" fill="#ff1a1a"/>
<circle cx="511.55" cy="306.80" r="1.5" fill="#ff1a1a"/>
<circle cx="533.12" cy="303.30" r="1.5" fill="#ff1a1a"/>
<rect x="307.00" y="268.50" width="236.80" height="236.00" class="spine"/>
<line x1="317.40" y1="504.50" x2="317.40" y2="506.95" class="tick"/>
<text x="317.40" y="515.30" font-size="8.0" text-anchor="middle" textLength="4.20" lengthAdjust="spacingAndGlyphs" fill="#1e1e1e" stroke="#1e1e1e" stroke-width="0.18">0</text>
<line x1="344.36" y1="504.50" x2="344.36" y2="506.95" class="tick"/>
<text x="344.36" y="515.30" font-size="8.0" text-anchor="middle" textLength="8.40" lengthAdjust="spacingAndGlyphs" fill="#1e1e1e" stroke="#1e1e1e" stroke-width="0.18">50</text>
<line x1="371.33" y1="504.50" x2="371.33" y2="506.95" class="tick"/>
<text x="371.33" y="515.30" font-size="8.0" text-anchor="middle" textLength="12.60" lengthAdjust="spacingAndGlyphs" fill="#1e1e1e" stroke="#1e1e1e" stroke-width="0.18">100</text>
<line x1="398.29" y1="504.50" x2="398.29" y2="506.95" class="tick"/>
<text x="398.29" y="515.30" font-size="8.0" text-anchor="middle" textLength="12.60" lengthAdjust="spacingAndGlyphs" fill="#1e1e1e" stroke="#1e1e1e" stroke-width="0.18">150</text>
<line x1="425.26" y1="504.50" x2="425.26" y2="506.95" class="tick"/>
<text x="425.26" y="515.30" font-size="8.0" text-anchor="middle" textLength="12.60" lengthAdjust="spacingAndGlyphs" fill="#1e1e1e" stroke="#1e1e1e" stroke-width="0.18">200</text>
<line x1="452.22" y1="504.50" x2="452.22" y2="506.95" class="tick"/>
<text x="452.22" y="515.30" font-size="8.0" text-anchor="middle" textLength="12.60" lengthAdjust="spacingAndGlyphs" fill="#1e1e1e" stroke="#1e1e1e" stroke-width="0.18">250</text>
<line x1="479.19" y1="504.50" x2="479.19" y2="506.95" class="tick"/>
<text x="479.19" y="515.30" font-size="8.0" text-anchor="middle" textLength="12.60" lengthAdjust="spacingAndGlyphs" fill="#1e1e1e" stroke="#1e1e1e" stroke-width="0.18">300</text>
<line x1="506.15" y1="504.50" x2="506.15" y2="506.95" class="tick"/>
<text x="506.15" y="515.30" font-size="8.0" text-anchor="middle" textLength="12.60" lengthAdjust="spacingAndGlyphs" fill="#1e1e1e" stroke="#1e1e1e" stroke-width="0.18">350</text>
<line x1="533.12" y1="504.50" x2="533.12" y2="506.95" class="tick"/>
<text x="533.12" y="515.30" font-size="8.0" text-anchor="middle" textLength="12.60" lengthAdjust="spacingAndGlyphs" fill="#1e1e1e" stroke="#1e1e1e" stroke-width="0.18">400</text>
<line x1="304.55" y1="492.60" x2="307.00" y2="492.60" class="tick"/>
<text x="301.40" y="495.35" font-size="8.0" text-anchor="end" textLength="10.34" lengthAdjust="spacingAndGlyphs" fill="#1e1e1e" stroke="#1e1e1e" stroke-width="0.18">0.0</text>
<line x1="304.55" y1="463.49" x2="307.00" y2="463.49" class="tick"/>
<text x="301.40" y="466.24" font-size="8.0" text-anchor="end" textLength="10.34" lengthAdjust="spacingAndGlyphs" fill="#1e1e1e" stroke="#1e1e1e" stroke-width="0.18">0.1</text>
<line x1="304.55" y1="434.38" x2="307.00" y2="434.38" class="tick"/>
<text x="301.40" y="437.13" font-size="8.0" text-anchor="end" textLength="10.34" lengthAdjust="spacingAndGlyphs" fill="#1e1e1e" stroke="#1e1e1e" stroke-width="0.18">0.2</text>
<line x1="304.55" y1="405.27" x2="307.00" y2="405.27" class="tick"/>
<text x="301.40" y="408.02" font-size="8.0" text-anchor="end" textLength="10.34" lengthAdjust="spacingAndGlyphs" fill="#1e1e1e" stroke="#1e1e1e" stroke-width="0.18">0.3</text>
<line x1="304.55" y1="376.16" x2="307.00" y2="376.16" class="tick"/>
<text x="301.40" y="378.91" font-size="8.0" text-anchor="end" textLength="10.34" lengthAdjust="spacingAndGlyphs" fill="#1e1e1e" stroke="#1e1e1e" stroke-width="0.18">0.4</text>
<line x1="304.55" y1="347.05" x2="307.00" y2="347.05" class="tick"/>
<text x="301.40" y="349.80" font-size="8.0" text-anchor="end" textLength="10.34" lengthAdjust="spacingAndGlyphs" fill="#1e1e1e" stroke="#1e1e1e" stroke-width="0.18">0.5</text>
<line x1="304.55" y1="317.94" x2="307.00" y2="317.94" class="tick"/>
<text x="301.40" y="320.69" font-size="8.0" text-anchor="end" textLength="10.34" lengthAdjust="spacingAndGlyphs" fill="#1e1e1e" stroke="#1e1e1e" stroke-width="0.18">0.6</text>
<line x1="304.55" y1="288.83" x2="307.00" y2="288.83" class="tick"/>
<text x="301.40" y="291.58" font-size="8.0" text-anchor="end" textLength="10.34" lengthAdjust="spacingAndGlyphs" fill="#1e1e1e" stroke="#1e1e1e" stroke-width="0.18">0.7</text>
<text x="425.40" y="524.60" font-size="8.0" text-anchor="middle" textLength="42.04" lengthAdjust="spacingAndGlyphs" fill="#1e1e1e" stroke="#1e1e1e" stroke-width="0.18">Sample size</text>
<text x="285.70" y="387.00" font-size="8.0" text-anchor="middle" textLength="31.96" lengthAdjust="spacingAndGlyphs" fill="#1e1e1e" stroke="#1e1e1e" stroke-width="0.18" transform="rotate(-90 285.70 387.00)">Accuracy</text>
<text x="311.20" y="278.80" font-size="9.6" text-anchor="start" textLength="12.59" lengthAdjust="spacingAndGlyphs" fill="#1e1e1e" stroke="#1e1e1e" stroke-width="0.06">(d)</text>
<rect x="461.20" y="467.00" width="79.00" height="33.80" rx="1.4" class="legend"/>
<line x1="463.40" y1="472.75" x2="478.40" y2="472.75" stroke="#1a1aff" stroke-width="1.1"/>
<circle cx="470.90" cy="472.75" r="1.6" fill="#1a1aff"/>
<text x="483.90" y="475.30" font-size="8.0" text-anchor="start" textLength="44.41" lengthAdjust="spacingAndGlyphs" fill="#1e1e1e" stroke="#1e1e1e" stroke-width="0.18">satellite+poi</text>
<line x1="463.40" y1="483.40" x2="478.40" y2="483.40" stroke="#1a8c1a" stroke-width="1.1"/>
<circle cx="470.90" cy="483.40" r="1.6" fill="#1a8c1a"/>
<text x="483.90" y="485.90" font-size="8.0" text-anchor="start" textLength="52.89" lengthAdjust="spacingAndGlyphs" fill="#1e1e1e" stroke="#1e1e1e" stroke-width="0.18">satellite+index</text>
<line x1="463.40" y1="494.05" x2="478.40" y2="494.05" stroke="#ff1a1a" stroke-width="1.1"/>
<circle cx="470.90" cy="494.05" r="1.6" fill="#ff1a1a"/>
<text x="483.90" y="496.50" font-size="8.0" text-anchor="start" textLength="39.32" lengthAdjust="spacingAndGlyphs" fill="#1e1e1e" stroke="#1e1e1e" stroke-width="0.18">all features</text>
<rect x="39.80" y="20.60" width="17.60" height="214.00" fill="none" stroke="#cbb062" stroke-width="1.15"/>
<line x1="57.40" y1="20.60" x2="306.40" y2="8.50" stroke="#cbb062" stroke-width="1.15"/>
<line x1="306.40" y1="8.50" x2="301.66" y2="5.90" stroke="#cbb062" stroke-width="1.15" stroke-linecap="round"/>
<line x1="306.40" y1="8.50" x2="301.94" y2="11.54" stroke="#cbb062" stroke-width="1.15" stroke-linecap="round"/>
<line x1="57.40" y1="234.60" x2="306.00" y2="240.30" stroke="#cbb062" stroke-width="1.15"/>
<line x1="306.00" y1="240.30" x2="301.46" y2="237.37" stroke="#cbb062" stroke-width="1.15" stroke-linecap="round"/>
<line x1="306.00" y1="240.30" x2="301.33" y2="243.02" stroke="#cbb062" stroke-width="1.15" stroke-linecap="round"/>
<rect x="40.20" y="286.50" width="20.30" height="214.10" fill="none" stroke="#cbb062" stroke-width="1.15"/>
<line x1="60.50" y1="286.50" x2="305.40" y2="271.00" stroke="#cbb062" stroke-width="1.15"/>
<line x1="305.40" y1="271.00" x2="300.63" y2="268.47" stroke="#cbb062" stroke-width="1.15" stroke-linecap="round"/>
<line x1="305.40" y1="271.00" x2="300.98" y2="274.11" stroke="#cbb062" stroke-width="1.15" stroke-linecap="round"/>
<line x1="60.50" y1="500.60" x2="305.30" y2="503.10" stroke="#cbb062" stroke-width="1.15"/>
<line x1="305.30" y1="503.10" x2="300.73" y2="500.23" stroke="#cbb062" stroke-width="1.15" stroke-linecap="round"/>
<line x1="305.30" y1="503.10" x2="300.67" y2="505.88" stroke="#cbb062" stroke-width="1.15" stroke-linecap="round"/>
</svg>
</body></html>
